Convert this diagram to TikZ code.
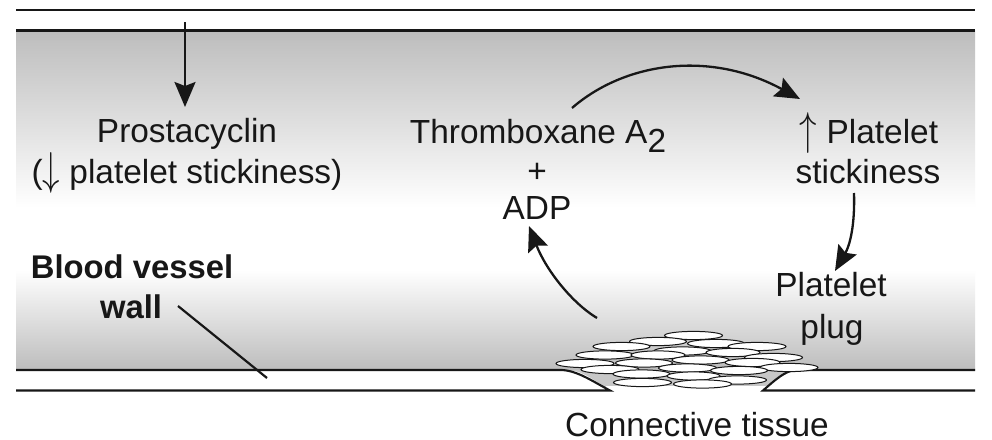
\documentclass[tikz,border=0pt]{standalone}
\usepackage{fontspec}
\usepackage{graphicx}
\setmainfont{Liberation Sans}
\usetikzlibrary{arrows.meta,calc}
\definecolor{wallgrey}{gray}{0.74}
\definecolor{midtop}{gray}{0.90}
\definecolor{midbottom}{gray}{0.90}
\definecolor{inkblack}{gray}{0.09}
\tikzset{
  vessel/.style={line width=2.1pt,draw=inkblack},
  label/.style={anchor=base,inner sep=0pt,text=inkblack,font=\fontsize{33.4}{36}\selectfont},
  boldlabel/.style={label,font=\fontsize{32.8}{36}\selectfont\bfseries},
  flow/.style={line width=2.3pt,draw=inkblack,-{Stealth[length=25pt,width=21pt,inset=4pt]}},
  leader/.style={line width=2.2pt,draw=inkblack},
  platelet/.style={draw=inkblack,line width=1pt,fill=white}
}
% one platelet: centre x, centre y, half width
\newcommand{\plateletat}[3]{\path[platelet] (#1,#2) ellipse [x radius=#3,y radius=4.1];}
% enlarged thin arrows used inside the labels
\newcommand{\bigarrow}[1]{\raisebox{-1pt}{\scalebox{1.4}[1.85]{$#1$}}}
\begin{document}
\begin{tikzpicture}[x=1pt,y=-1pt]
\useasboundingbox (0,0) rectangle (992,439);
\fill[white] (0,0) rectangle (992,439);

% graded tinted bands inside the vessel
\shade[top color=wallgrey,middle color=midtop,bottom color=white] (16,30) rectangle (975,208);
\shade[top color=white,middle color=midbottom,bottom color=wallgrey] (16,270) rectangle (975,370);

% gap in the wall: exposed tissue below the plug
\fill[white] (16,371) rectangle (975,390);
\fill[wallgrey!85!white] (570,370) .. controls (585,372) and (596,382) .. (610,390)
  -- (762,390) .. controls (775,380) and (785,372) .. (800,370) -- cycle;
\fill[white] (606,386) rectangle (768,392);

% vessel walls
\draw[vessel] (16,10) -- (975,10);
\draw[vessel] (16,30.5) -- (975,30.5);
\draw[vessel] (16,370) -- (562,370) .. controls (578,371) and (592,381) .. (610,390.5) -- (16,390.5);
\draw[vessel] (975,370) -- (795,370) .. controls (785,371) and (775,380) .. (763,390.5) -- (975,390.5);

% the plug, back to front
\plateletat{693.5}{335.5}{29}
\plateletat{658}{341.5}{28.5}
\plateletat{716}{343.5}{28.5}
\plateletat{757}{346.5}{29}
\plateletat{621.5}{346.5}{28.5}
\plateletat{682.5}{351}{28.5}
\plateletat{605}{355}{29}
\plateletat{658}{355}{27}
\plateletat{733}{352.5}{27}
\plateletat{773.5}{357.5}{29}
\plateletat{585}{363.5}{29}
\plateletat{644}{363}{28.5}
\plateletat{700.5}{360}{28.5}
\plateletat{752.5}{362.5}{27.5}
\plateletat{610}{369.5}{29}
\plateletat{687.5}{368}{29}
\plateletat{789}{367.5}{29}
\plateletat{739}{370.5}{28.5}
\plateletat{641.5}{374}{28.5}
\plateletat{693.5}{376}{26.5}
\plateletat{737.5}{380}{29}
\plateletat{642.5}{382.5}{29}
\plateletat{702.5}{384}{29}

% labels
\node[label] (prost) at (187,142) {Prostacyclin};
\node[label] (prostnote) at (187,183) {(\bigarrow{\downarrow} platelet stickiness)};
\node[label] (thromb) at (538,143) {Thromboxane A\raisebox{-9pt}{2}};
\node[label] (plus) at (537,182) {+};
\node[label] (adp) at (537,219) {ADP};
\node[label] (stick) at (869,143) {\bigarrow{\uparrow} Platelet};
\node[label] (stick2) at (868,183) {stickiness};
\node[label] (plug) at (831,296) {Platelet};
\node[label] (plug2) at (832,338) {plug};
\node[label] (conn) at (697,436) {Connective tissue};
\node[boldlabel] (bv) at (132,278) {Blood vessel};
\node[boldlabel] (bvw) at (131,318) {wall};

% connector ends
\coordinate (lumen) at (185,22);
\coordinate (prosttip) at (185,107);
\coordinate (wallpoint) at (267,378);
\coordinate (leaderstart) at (178,306);
\coordinate (plugtop) at (597,318);
\coordinate (adpfoot) at (529,226);
\coordinate (txstart) at (572,108);
\coordinate (stickin) at (800,99);
\coordinate (stickout) at (854,193);
\coordinate (plugin) at (835,271);

% connectors
\draw[flow] (lumen) -- (prosttip);
\draw[flow] (txstart) .. controls (625,62) and (710,50) .. (stickin);
\draw[flow] (stickout) .. controls (855,225) and (850,245) .. (plugin);
\draw[flow] (plugtop) .. controls (572,303) and (546,270) .. (adpfoot);
\draw[leader] (leaderstart) -- (wallpoint);
\end{tikzpicture}
\end{document}
